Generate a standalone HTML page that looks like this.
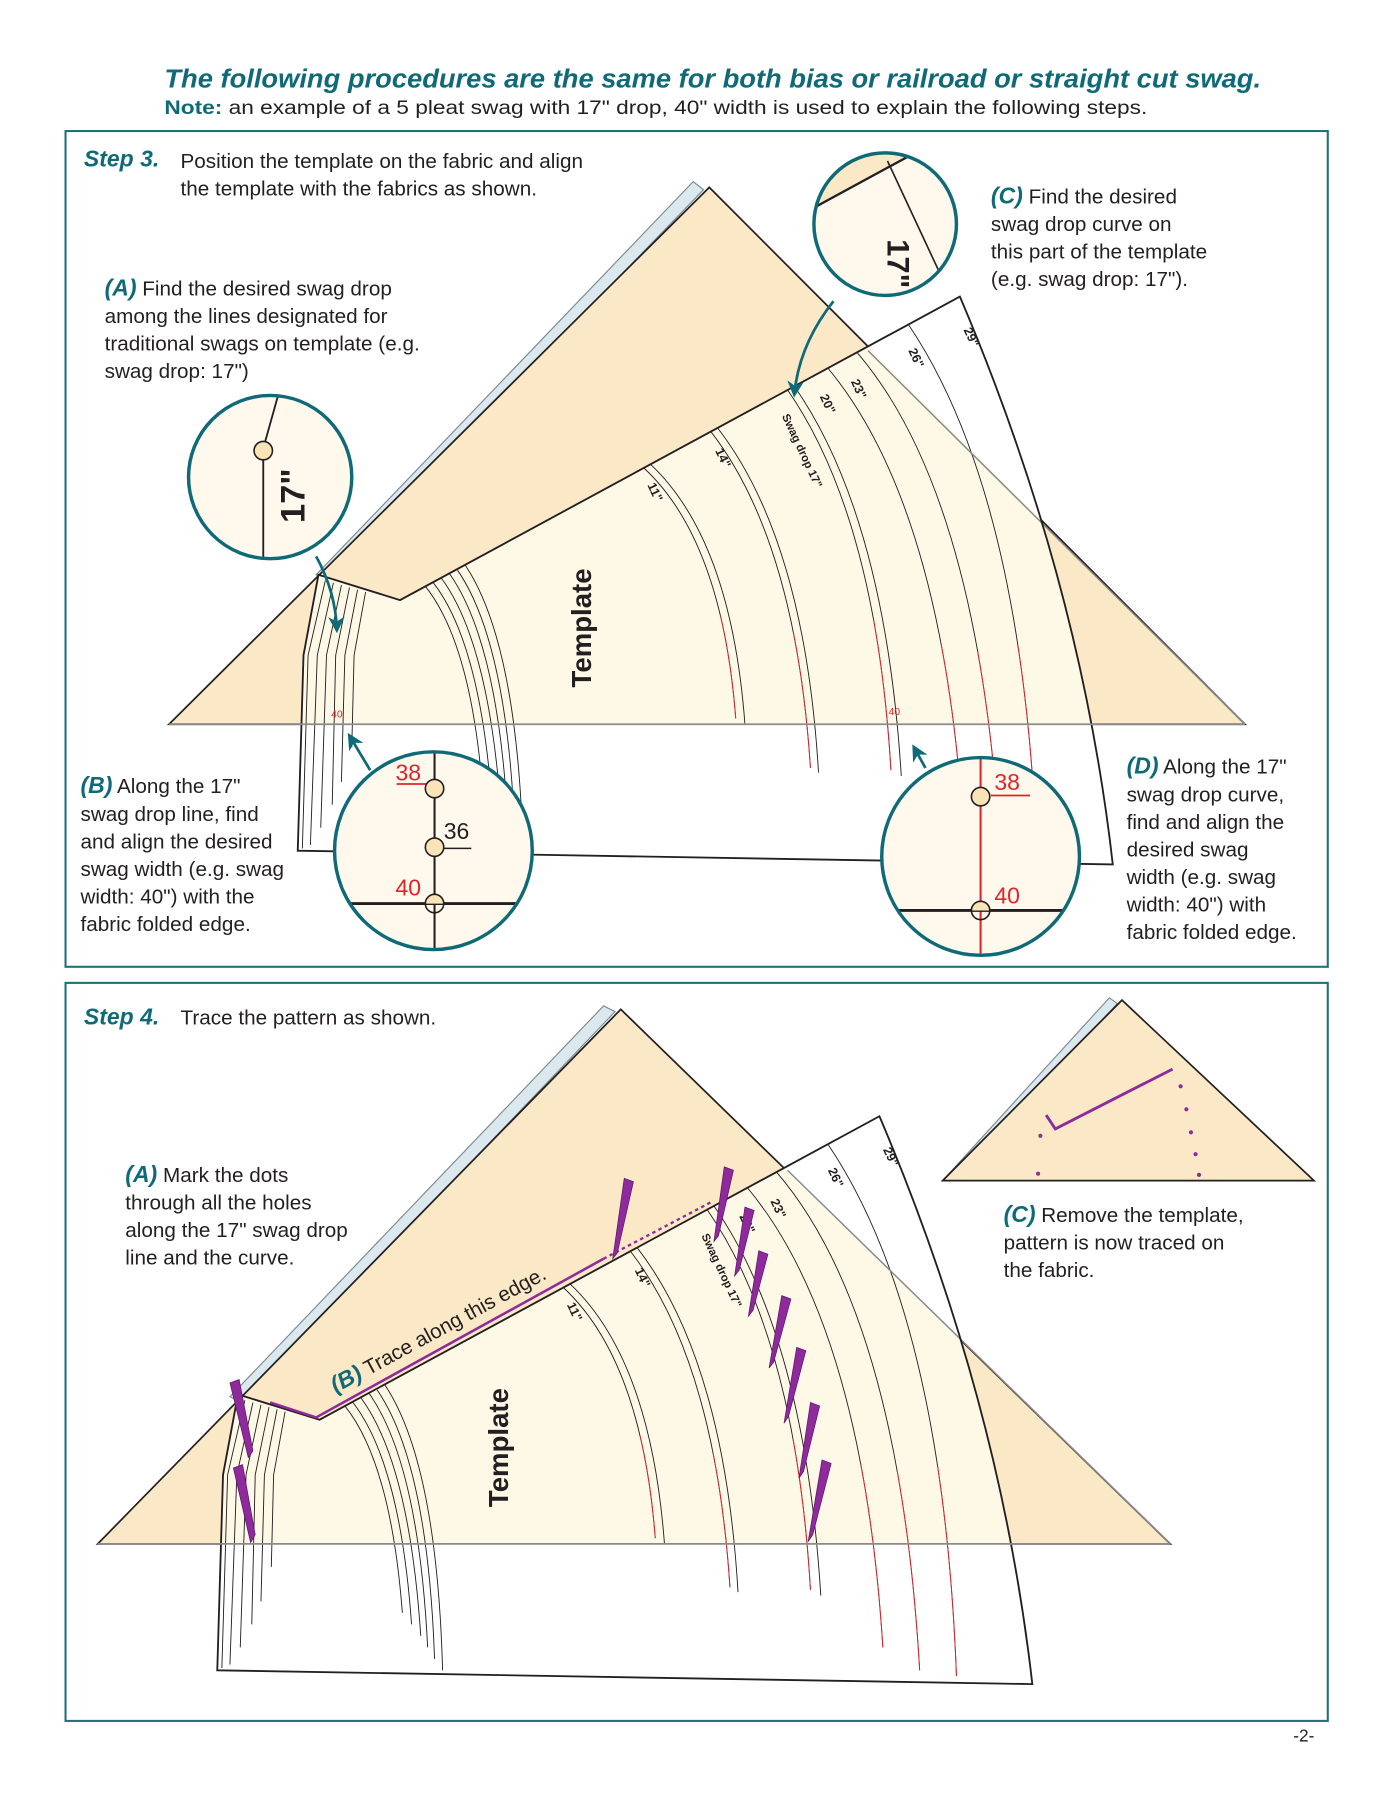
<!DOCTYPE html>
<html><head><meta charset="utf-8"><style>
html,body{margin:0;padding:0;background:#fff}
svg{display:block}
text{font-family:"Liberation Sans",sans-serif}
</style></head><body>
<svg width="1391" height="1800" viewBox="0 0 1210 1565.8" xmlns="http://www.w3.org/2000/svg">
<defs>
<clipPath id="tp3"><path d="M277,500 L348,522 L835,258 Q940,505 968,752 L259,740 L264,570 Z"/></clipPath>
<clipPath id="cA"><circle cx="235" cy="415" r="71"/></clipPath>
<clipPath id="cC"><circle cx="770" cy="195" r="62"/></clipPath>
<clipPath id="cB"><circle cx="377" cy="740" r="86"/></clipPath>
<clipPath id="cD"><circle cx="853" cy="745" r="86"/></clipPath>
<marker id="ar" viewBox="0 0 10 10" refX="8" refY="5" markerWidth="6" markerHeight="6" orient="auto"><path d="M0,0 L10,5 L0,10 L3,5 Z" fill="#0f6a78"/></marker>
</defs>

<text x="143" y="76" font-size="22.5" font-weight="bold" font-style="italic" fill="#0f6a78" textLength="954" lengthAdjust="spacingAndGlyphs">The following procedures are the same for both bias or railroad or straight cut swag.</text>
<text x="143" y="99" font-size="17" fill="#231f20" textLength="855" lengthAdjust="spacingAndGlyphs"><tspan font-weight="bold" fill="#0f6a78">Note:</tspan> an example of a 5 pleat swag with 17" drop, 40" width is used to explain the following steps.</text>

<rect x="57" y="114" width="1098" height="727" fill="none" stroke="#1f6f7c" stroke-width="1.8"/>
<rect x="57" y="855" width="1098" height="642" fill="none" stroke="#1f6f7c" stroke-width="1.8"/>
<text x="1125" y="1515" font-size="15" fill="#231f20">-2-</text>

<!-- STEP 3 -->
<polygon points="275,500 603,158 612,165 283,505" fill="#dbe8ee" stroke="#7b8a90" stroke-width="1"/>
<polygon points="147,630 617,163 1083,630" fill="#fbe8c6" stroke="#231f20" stroke-width="1.5"/>
<g id="tpl">
<path d="M277,500 L348,522 L835,258 Q940,505 968,752 L259,740 L264,570 Z" fill="#fff"/>
<g clip-path="url(#tp3)"><polygon points="147,630 617,163 1083,630" fill="#fef8e7"/></g>
<g clip-path="url(#tp3)" fill="none" stroke="#231f20" stroke-width="0.8">
<path d="M283,505 L268,570 L263,738"/><path d="M290,507 L276,570 L270,735"/><path d="M297,509 L284,570 L279,720"/><path d="M304,511 L292,570 L289,700"/><path d="M311,513 L300,570 L297,680"/><path d="M318,515 L308,570 L306,650"/>
<path d="M370,510 Q410,560 420,690"/><path d="M377,507 Q418,560 428,700"/><path d="M384,503 Q426,560 436,710"/><path d="M391,499 Q434,560 442,720"/><path d="M398,496 Q442,560 448,730"/><path d="M405,492 Q450,560 455,740"/>
</g>
<g clip-path="url(#tp3)" fill="none" stroke-width="0.8">
<g stroke="#231f20">
<path d="M560,407 Q628,470 640,625"/><path d="M566,404 Q636,470 648,630"/>
<path d="M618,375 Q692,470 705,668"/><path d="M624,372 Q700,470 712,672"/>
<path d="M685,339 Q762,450 775,670"/><path d="M691,336 Q770,450 784,675"/>
<path d="M720,320 Q820,440 838,720"/>
<path d="M745,306 Q852,430 870,740"/>
<path d="M790,282 Q890,430 902,745"/>
</g>
<g stroke="#e0242c" stroke-dasharray="0 62 40" >
<path pathLength="100" d="M560,407 Q628,470 640,625"/>
<path pathLength="100" d="M618,375 Q692,470 705,668"/>
<path pathLength="100" d="M685,339 Q762,450 775,670"/>
<path pathLength="100" d="M720,320 Q820,440 838,720"/>
<path pathLength="100" d="M745,306 Q852,430 870,740"/>
<path pathLength="100" d="M790,282 Q890,430 902,745"/>
</g>
</g>
<line x1="755" y1="305" x2="1083" y2="630" stroke="#8a8a8a" stroke-width="1.3"/>
<path d="M277,500 L348,522 L835,258 Q940,505 968,752 L259,740 L264,570 Z" fill="none" stroke="#231f20" stroke-width="1.6"/>
<g font-size="11" font-weight="bold" fill="#231f20">
<text transform="translate(563,422) rotate(65)">11"</text>
<text transform="translate(622,392) rotate(65)">14"</text>
<text transform="translate(680,362) rotate(65)" font-size="10">Swag drop 17"</text>
<text transform="translate(713,345) rotate(65)">20"</text>
<text transform="translate(740,332) rotate(65)">23"</text>
<text transform="translate(790,305) rotate(65)">26"</text>
<text transform="translate(838,287) rotate(65)">29"</text>
</g>
</g>
<line x1="147" y1="630" x2="1083" y2="630" stroke="#8a8a8a" stroke-width="1.5"/>
<text transform="translate(514,598) rotate(-90)" font-size="24" font-weight="bold" fill="#231f20">Template</text>
<text x="288" y="624" font-size="9" fill="#e0242c">40</text>
<text x="773" y="622" font-size="9" fill="#e0242c">40</text>

<!-- circles step 3 -->
<circle cx="235" cy="415" r="71" fill="#fef9ec"/>
<g clip-path="url(#cA)" stroke="#231f20" stroke-width="1.6" fill="none"><path d="M243,340 L229,390 L229,490"/></g>
<circle cx="229" cy="392" r="8" fill="#fbe3b8" stroke="#231f20" stroke-width="1.4"/>
<text transform="translate(265,455) rotate(-90)" font-size="30" font-weight="bold" fill="#231f20">17"</text>
<circle cx="235" cy="415" r="71" fill="none" stroke="#0f6a78" stroke-width="3"/>

<circle cx="770" cy="195" r="62" fill="#fef9ec"/>
<g clip-path="url(#cC)"><polygon points="700,120 805,120 805,128 700,185" fill="#fbe8c6"/><path d="M700,185 L805,128" stroke="#231f20" stroke-width="2" fill="none"/><path d="M772,140 L828,260" stroke="#231f20" stroke-width="1.4" fill="none"/></g>
<text transform="translate(772,208) rotate(90)" font-size="27" font-weight="bold" fill="#231f20">17"</text>
<circle cx="770" cy="195" r="62" fill="none" stroke="#0f6a78" stroke-width="3"/>

<circle cx="377" cy="740" r="86" fill="#fef9ec"/>
<g clip-path="url(#cB)" stroke="#231f20" fill="none"><line x1="378" y1="650" x2="378" y2="830" stroke-width="1.8"/><line x1="285" y1="786" x2="470" y2="786" stroke-width="2.5"/></g>
<line x1="345" y1="682" x2="372" y2="682" stroke="#e0242c" stroke-width="1.5"/>
<line x1="385" y1="738" x2="410" y2="738" stroke="#231f20" stroke-width="1.3"/>
<circle cx="378" cy="686" r="8" fill="#fbe3b8" stroke="#231f20" stroke-width="1.4"/>
<circle cx="378" cy="737" r="8" fill="#fbe3b8" stroke="#231f20" stroke-width="1.4"/>
<path d="M370,786 A8,8 0 0 1 386,786 Z" fill="#fbe3b8"/><circle cx="378" cy="786" r="8" fill="none" stroke="#231f20" stroke-width="1.4"/>
<text x="344" y="679" font-size="20" fill="#e0242c">38</text>
<text x="386" y="730" font-size="20" fill="#231f20">36</text>
<text x="344" y="779" font-size="20" fill="#e0242c">40</text>
<circle cx="377" cy="740" r="86" fill="none" stroke="#0f6a78" stroke-width="3"/>

<circle cx="853" cy="745" r="86" fill="#fef9ec"/>
<g clip-path="url(#cD)"><line x1="853" y1="655" x2="853" y2="835" stroke="#e0242c" stroke-width="1.8"/><line x1="760" y1="792" x2="945" y2="792" stroke="#231f20" stroke-width="2.5"/></g>
<line x1="862" y1="692" x2="896" y2="692" stroke="#e0242c" stroke-width="1.5"/>
<circle cx="853" cy="693" r="8" fill="#fbe3b8" stroke="#231f20" stroke-width="1.4"/>
<path d="M845,792 A8,8 0 0 1 861,792 Z" fill="#fbe3b8"/><circle cx="853" cy="792" r="8" fill="none" stroke="#231f20" stroke-width="1.4"/>
<text x="865" y="687" font-size="20" fill="#e0242c">38</text>
<text x="865" y="786" font-size="20" fill="#e0242c">40</text>
<circle cx="853" cy="745" r="86" fill="none" stroke="#0f6a78" stroke-width="3"/>

<g stroke="#0f6a78" stroke-width="2.4" fill="none" marker-end="url(#ar)">
<path d="M275,484 Q292,515 293,548"/>
<path d="M322,670 L304,640"/>
<path d="M725,262 Q695,300 691,343"/>
<path d="M805,668 L795,650"/>
</g>

<g font-size="18" fill="#231f20">
<text x="73" y="145" font-weight="bold" font-style="italic" fill="#0f6a78" font-size="20">Step 3.</text>
<text x="157" y="146">Position the template on the fabric and align</text>
<text x="157" y="170">the template with the fabrics as shown.</text>
<text x="91" y="257"><tspan font-weight="bold" font-style="italic" fill="#0f6a78" font-size="20">(A)</tspan> Find the desired swag drop</text>
<text x="91" y="281">among the lines designated for</text>
<text x="91" y="305">traditional swags on template (e.g.</text>
<text x="91" y="329">swag drop: 17")</text>
<text x="862" y="177"><tspan font-weight="bold" font-style="italic" fill="#0f6a78" font-size="20">(C)</tspan> Find the desired</text>
<text x="862" y="201">swag drop curve on</text>
<text x="862" y="225">this part of the template</text>
<text x="862" y="249">(e.g. swag drop: 17").</text>
<text x="70" y="690"><tspan font-weight="bold" font-style="italic" fill="#0f6a78" font-size="20">(B)</tspan> Along the 17"</text>
<text x="70" y="714">swag drop line, find</text>
<text x="70" y="738">and align the desired</text>
<text x="70" y="762">swag width (e.g. swag</text>
<text x="70" y="786">width: 40") with the</text>
<text x="70" y="810">fabric folded edge.</text>
<text x="980" y="673"><tspan font-weight="bold" font-style="italic" fill="#0f6a78" font-size="20">(D)</tspan> Along the 17"</text>
<text x="980" y="697">swag drop curve,</text>
<text x="980" y="721">find and align the</text>
<text x="980" y="745">desired swag</text>
<text x="980" y="769">width (e.g. swag</text>
<text x="980" y="793">width: 40") with</text>
<text x="980" y="817">fabric folded edge.</text>
</g>

<!-- STEP 4 -->
<polygon points="200,1215 525,875 535,880 210,1220" fill="#dbe8ee" stroke="#7b8a90" stroke-width="1"/>
<polygon points="85,1343 540,878 1018,1343" fill="#fbe8c6" stroke="#231f20" stroke-width="1.5"/>
<g transform="translate(-70,713)">
<path d="M277,500 L348,522 L835,258 Q940,505 968,752 L259,740 L264,570 Z" fill="#fff"/>
<g clip-path="url(#tp3)"><polygon points="155,630 610,165 1088,630" fill="#fef8e7"/></g>
<g clip-path="url(#tp3)" fill="none" stroke="#231f20" stroke-width="0.8">
<path d="M283,505 L268,570 L263,738"/><path d="M290,507 L276,570 L270,735"/><path d="M297,509 L284,570 L279,720"/><path d="M304,511 L292,570 L289,700"/><path d="M311,513 L300,570 L297,680"/><path d="M318,515 L308,570 L306,650"/>
<path d="M370,510 Q410,560 420,690"/><path d="M377,507 Q418,560 428,700"/><path d="M384,503 Q426,560 436,710"/><path d="M391,499 Q434,560 442,720"/><path d="M398,496 Q442,560 448,730"/><path d="M405,492 Q450,560 455,740"/>
</g>
<g clip-path="url(#tp3)" fill="none" stroke-width="0.8">
<g stroke="#231f20">
<path d="M560,407 Q628,470 640,625"/><path d="M566,404 Q636,470 648,630"/>
<path d="M618,375 Q692,470 705,668"/><path d="M624,372 Q700,470 712,672"/>
<path d="M685,339 Q762,450 775,670"/><path d="M691,336 Q770,450 784,675"/>
<path d="M720,320 Q820,440 838,720"/>
<path d="M745,306 Q852,430 870,740"/>
<path d="M790,282 Q890,430 902,745"/>
</g>
<g stroke="#e0242c" stroke-dasharray="0 62 40">
<path pathLength="100" d="M560,407 Q628,470 640,625"/>
<path pathLength="100" d="M618,375 Q692,470 705,668"/>
<path pathLength="100" d="M685,339 Q762,450 775,670"/>
<path pathLength="100" d="M720,320 Q820,440 838,720"/>
<path pathLength="100" d="M745,306 Q852,430 870,740"/>
<path pathLength="100" d="M790,282 Q890,430 902,745"/>
</g>
</g>
<line x1="755" y1="305" x2="1088" y2="630" stroke="#8a8a8a" stroke-width="1.3"/>
<path d="M277,500 L348,522 L835,258 Q940,505 968,752 L259,740 L264,570 Z" fill="none" stroke="#231f20" stroke-width="1.6"/>
<g font-size="11" font-weight="bold" fill="#231f20">
<text transform="translate(563,422) rotate(65)">11"</text>
<text transform="translate(622,392) rotate(65)">14"</text>
<text transform="translate(680,362) rotate(65)" font-size="10">Swag drop 17"</text>
<text transform="translate(713,345) rotate(65)">20"</text>
<text transform="translate(740,332) rotate(65)">23"</text>
<text transform="translate(790,305) rotate(65)">26"</text>
<text transform="translate(838,287) rotate(65)">29"</text>
</g>
<text transform="translate(512,598) rotate(-90)" font-size="24" font-weight="bold" fill="#231f20">Template</text>
</g>
<line x1="85" y1="1343" x2="1018" y2="1343" stroke="#8a8a8a" stroke-width="1.5"/>
<polyline points="235,1220 275,1233 525,1095" fill="none" stroke="#8e2a9c" stroke-width="2.2"/>
<line x1="525" y1="1095" x2="620" y2="1045" stroke="#8e2a9c" stroke-width="2" stroke-dasharray="3,3"/>
<text transform="translate(292,1212) rotate(-28.5)" font-size="18" fill="#231f20"><tspan font-weight="bold" font-style="italic" fill="#0f6a78" font-size="20">(B)</tspan> Trace along this edge.</text>
<g fill="#8e2a9c" stroke="#5a1466" stroke-width="0.6">
<polygon points="200,1203 208,1200 220,1262 216,1268"/>
<polygon points="203,1277 211,1274 222,1335 218,1342"/>
<polygon points="543,1025 551,1028 537,1090 533,1095"/>
<polygon points="630,1015 638,1018 625,1075 621,1080"/>
<polygon points="648,1050 656,1053 643,1105 639,1110"/>
<polygon points="660,1088 668,1091 655,1140 651,1145"/>
<polygon points="680,1127 688,1130 673,1185 669,1190"/>
<polygon points="693,1172 701,1175 686,1232 682,1238"/>
<polygon points="705,1220 713,1223 699,1280 695,1286"/>
<polygon points="715,1270 723,1273 707,1335 703,1341"/>
</g>

<polygon points="820,1027 965,868 972,873 828,1027" fill="#dbe8ee" stroke="#7b8a90" stroke-width="1"/>
<polygon points="820,1027 976,870 1143,1027" fill="#fbe8c6" stroke="#231f20" stroke-width="1.5"/>
<polyline points="910,970 918,982 1020,930" fill="none" stroke="#8e2a9c" stroke-width="2.5"/>
<g fill="#8e2a9c"><circle cx="905" cy="988" r="1.8"/><circle cx="903" cy="1021" r="1.8"/><circle cx="1027" cy="945" r="1.8"/><circle cx="1032" cy="965" r="1.8"/><circle cx="1036" cy="985" r="1.8"/><circle cx="1040" cy="1004" r="1.8"/><circle cx="1043" cy="1022" r="1.8"/></g>

<g font-size="18" fill="#231f20">
<text x="73" y="891" font-weight="bold" font-style="italic" fill="#0f6a78" font-size="20">Step 4.</text>
<text x="157" y="891">Trace the pattern as shown.</text>
<text x="109" y="1028"><tspan font-weight="bold" font-style="italic" fill="#0f6a78" font-size="20">(A)</tspan> Mark the dots</text>
<text x="109" y="1052">through all the holes</text>
<text x="109" y="1076">along the 17" swag drop</text>
<text x="109" y="1100">line and the curve.</text>
<text x="873" y="1063"><tspan font-weight="bold" font-style="italic" fill="#0f6a78" font-size="20">(C)</tspan> Remove the template,</text>
<text x="873" y="1087">pattern is now traced on</text>
<text x="873" y="1111">the fabric.</text>
</g>
</svg>
</body></html>
